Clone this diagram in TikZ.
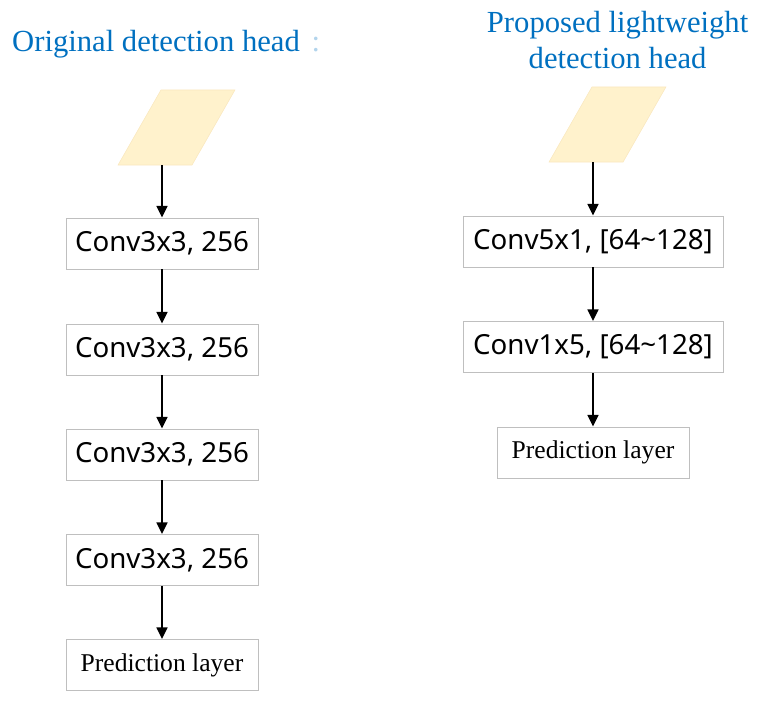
\documentclass[tikz,border=0pt]{standalone}
\usepackage{fontspec}
\setmainfont{Liberation Serif}
\newfontfamily\convfont{Noto Sans}
\usetikzlibrary{arrows.meta,positioning,shapes.geometric}
\definecolor{headblue}{RGB}{0,112,192}
\definecolor{featfill}{RGB}{255,242,204}
\definecolor{featline}{RGB}{250,232,192}
\definecolor{boxline}{RGB}{191,191,191}

\begin{document}
\begin{tikzpicture}[
  title/.style={font=\fontsize{21.8pt}{25.6pt}\selectfont, text=headblue,
                align=center, inner sep=0pt},
  feat/.style={trapezium, trapezium left angle=71, trapezium right angle=109,
               trapezium stretches=true, minimum width=2.925cm,
               minimum height=1.875cm, inner sep=2pt,
               fill=featfill, draw=featline, line width=0.4pt},
  conv/.style={font=\convfont\fontsize{19.7pt}{23pt}\selectfont,
               minimum width=4.8cm, minimum height=1.275cm, inner sep=0pt,
               draw=boxline, line width=0.7pt},
  pred/.style={font=\fontsize{18.2pt}{22pt}\selectfont,
               minimum width=4.8cm, minimum height=1.275cm, inner sep=0pt,
               draw=boxline, line width=0.7pt},
  arr/.style={-{Triangle[length=0.29cm,width=0.27cm]}, line width=1.6pt}
]
\useasboundingbox (0,0) rectangle (19.075,-17.525);
% Titles
\node[title, anchor=base] (titleL) at (3.9,-1.29) {Original detection head};
\node[title, anchor=base, text=headblue!30] (dotL) at (7.9,-1.29) {:};
\node[title] (titleR) at (15.44,-1.0) {Proposed lightweight\\detection head};
% Original head
\node[feat] (featL) at (4.4125,-3.1875) {\strut};
\node[conv] (convA) at (4.05,-6.0875) {Conv3x3, 256};
\node[conv] (convB) at (4.05,-8.7375) {Conv3x3, 256};
\node[conv] (convC) at (4.05,-11.3625) {Conv3x3, 256};
\node[conv] (convD) at (4.05,-14.0) {Conv3x3, 256};
\node[pred] (predL) at (4.05,-16.625) {Prediction layer};
% Lightweight head
\node[feat] (featR) at (15.1875,-3.1125) {\strut};
\node[conv, minimum width=6.5cm] (convE) at (14.825,-6.0375) {Conv5x1, [64\textasciitilde128]};
\node[conv, minimum width=6.5cm] (convF) at (14.825,-8.675) {Conv1x5, [64\textasciitilde128]};
\node[pred] (predR) at (14.825,-11.3125) {Prediction layer};
% Arrows
\draw[arr] (featL.south -| convA.north) -- (convA.north);
\draw[arr] (convA) -- (convB);
\draw[arr] (convB) -- (convC);
\draw[arr] (convC) -- (convD);
\draw[arr] (convD) -- (predL);
\draw[arr] (featR.south -| convE.north) -- (convE.north);
\draw[arr] (convE) -- (convF);
\draw[arr] (convF) -- (predR);
\end{tikzpicture}
\end{document}
